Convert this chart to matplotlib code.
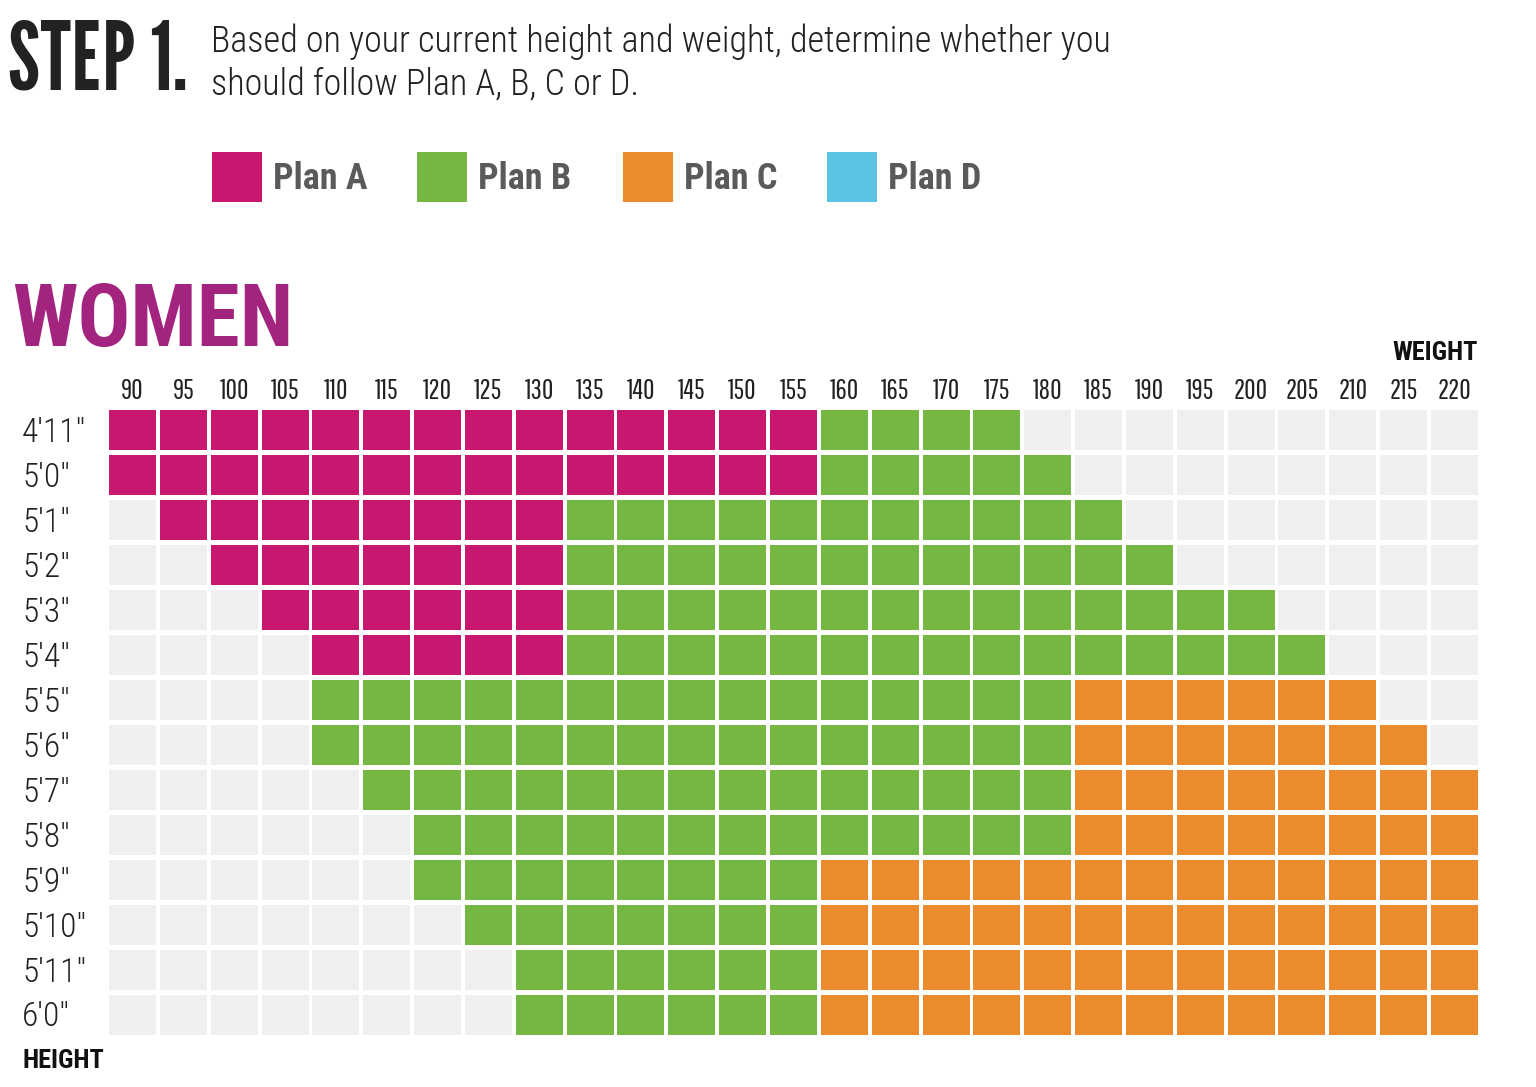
import matplotlib.pyplot as plt
from matplotlib import font_manager
from matplotlib.font_manager import FontProperties
from matplotlib.patches import Rectangle
from matplotlib.transforms import blended_transform_factory

# weights across the top, heights down the side
weights = [90, 95, 100, 105, 110, 115, 120, 125, 130, 135, 140, 145, 150, 155,
           160, 165, 170, 175, 180, 185, 190, 195, 200, 205, 210, 215, 220]
heights = ["4'11\"", "5'0\"", "5'1\"", "5'2\"", "5'3\"", "5'4\"", "5'5\"",
           "5'6\"", "5'7\"", "5'8\"", "5'9\"", "5'10\"", "5'11\"", "6'0\""]

# one character per weight column: A/B/C/D = plan, '.' = no plan
plan_rows = [
    "AAAAAAAAAAAAAABBBB.........",
    "AAAAAAAAAAAAAABBBBB........",
    ".AAAAAAAABBBBBBBBBBB.......",
    "..AAAAAAABBBBBBBBBBBB......",
    "...AAAAAABBBBBBBBBBBBBB....",
    "....AAAAABBBBBBBBBBBBBBB...",
    "....BBBBBBBBBBBBBBBCCCCCC..",
    "....BBBBBBBBBBBBBBBCCCCCCC.",
    ".....BBBBBBBBBBBBBBCCCCCCCC",
    "......BBBBBBBBBBBBBCCCCCCCC",
    "......BBBBBBBBCCCCCCCCCCCCC",
    ".......BBBBBBBCCCCCCCCCCCCC",
    "........BBBBBBCCCCCCCCCCCCC",
    "........BBBBBBCCCCCCCCCCCCC",
]

plan_names = ['Plan A', 'Plan B', 'Plan C', 'Plan D']
plan_codes = ['A', 'B', 'C', 'D']
plan_colors = ['#c8176e', '#74b843', '#eb8b2e', '#5bc4e2']
empty_color = '#efefef'


def pick(*names):
    for n in names:
        try:
            font_manager.findfont(FontProperties(family=n), fallback_to_default=False)
            return n
        except ValueError:
            pass
    return 'DejaVu Sans'


cond = pick('Roboto Condensed', 'Archivo Narrow', 'Barlow Condensed')
tight = pick('Pathway Gothic One', 'Barlow Condensed')
gothic = pick('League Gothic', 'Oswald', 'Barlow Condensed')

W, H = 1536, 1087
fig = plt.figure(figsize=(W / 100, H / 100), dpi=100)
fig.patch.set_facecolor('white')


def fx(px):
    return px / W


def fy(py):
    return 1 - py / H


# grid
ax = fig.add_axes([fx(109), fy(1035), (1478 - 109) / W, (1035 - 410) / H])
cw, ch = 0.925, 0.9
color_of = dict(zip(plan_codes, plan_colors))
for r, row in enumerate(plan_rows):
    for c, code in enumerate(row):
        ax.add_patch(Rectangle((c, r), cw, ch, facecolor=color_of.get(code, empty_color),
                               edgecolor='none'))
ax.set_xlim(0, len(weights) - 1 + cw)
ax.set_ylim(len(heights) - 1 + ch, 0)
ax.axis('off')

# weight labels
for c, w in enumerate(weights):
    ax.text(c + cw / 2, -0.42, str(w), ha='center', va='center',
            fontsize=20, family=[tight, 'DejaVu Sans'], color='#222222')

# height labels
tr = blended_transform_factory(fig.transFigure, ax.transData)
for r, h in enumerate(heights):
    ax.text(fx(22), r + ch / 2 + 0.06, h, transform=tr, ha='left', va='center',
            fontsize=24, fontweight='light', family=[cond, 'DejaVu Sans'],
            color='#222222')

fig.text(fx(1478), fy(353), 'WEIGHT', ha='right', va='center', fontsize=19,
         fontweight='bold', family=[cond, 'DejaVu Sans'], color='#111111')
fig.text(fx(22), fy(1061), 'HEIGHT', ha='left', va='center', fontsize=19,
         fontweight='bold', family=[cond, 'DejaVu Sans'], color='#111111')

# header
fig.text(fx(8), fy(64), 'STEP 1.', ha='left', va='center', fontsize=68,
         family=[gothic, 'DejaVu Sans'], color='#222222')
fig.text(fx(211), fy(42), 'Based on your current height and weight, determine whether you',
         ha='left', va='center', fontsize=26, fontweight='light',
         family=[cond, 'DejaVu Sans'], color='#222222')
fig.text(fx(211), fy(85), 'should follow Plan A, B, C or D.',
         ha='left', va='center', fontsize=26, fontweight='light',
         family=[cond, 'DejaVu Sans'], color='#222222')

# legend
legend_x = [212, 417, 623, 827]
for x0, name, col in zip(legend_x, plan_names, plan_colors):
    fig.patches.append(Rectangle((fx(x0), fy(202)), 50 / W, 50 / H,
                                 transform=fig.transFigure, facecolor=col,
                                 edgecolor='none'))
    fig.text(fx(x0 + 61), fy(179), name, ha='left', va='center', fontsize=26,
             fontweight='bold', family=[cond, 'DejaVu Sans'], color='#5a5a5a')

fig.text(fx(12), fy(322), 'WOMEN', ha='left', va='center', fontsize=63,
         fontweight='bold', family=[cond, 'DejaVu Sans'], color='#a3247e')

fig.savefig('out.png', dpi=100, facecolor='white')
